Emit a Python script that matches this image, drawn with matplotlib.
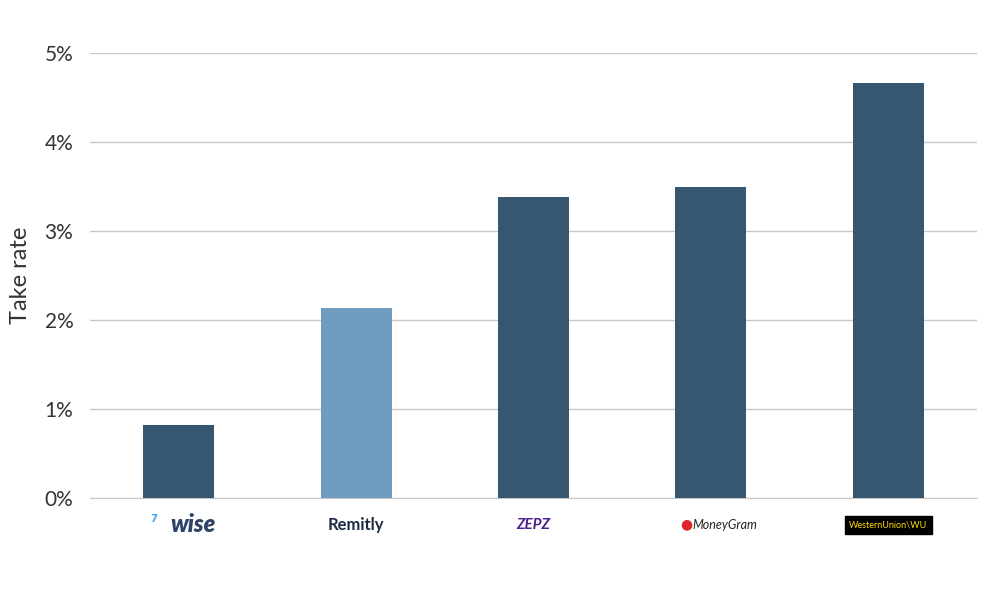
import matplotlib.pyplot as plt
from matplotlib.ticker import FuncFormatter

plt.rcParams['font.family'] = ['Lato', 'DejaVu Sans']

providers = ["wise", "Remitly", "ZEPZ", "MoneyGram", "WesternUnion\\WU"]
take_rate = [0.82, 2.13, 3.38, 3.49, 4.66]
bar_colors = ["#37566f", "#6f9cc0", "#37566f", "#37566f", "#37566f"]

fig = plt.figure(figsize=(10, 6), dpi=100)
ax = fig.add_axes([0.09, 0.17, 0.887, 0.742])
x = list(range(len(providers)))
ax.bar(x, take_rate, width=0.4, color=bar_colors, zorder=3)
ax.set_xlim(-0.5, 4.5)
ax.set_ylim(0, 5)
ax.set_yticks(range(0, 6))
ax.yaxis.set_major_formatter(FuncFormatter(lambda v, _: f"{v:.0f}%"))
ax.grid(axis="y", color="#c8c8c8", linewidth=1, zorder=0)
for s in ["top", "right", "left"]:
    ax.spines[s].set_visible(False)
ax.spines["bottom"].set_color("#c8c8c8")
ax.tick_params(axis="y", length=0, labelsize=15, colors="#333333", pad=12)
ax.tick_params(axis="x", length=0)
ax.set_xticks(x)
ax.set_xticklabels([])
ax.set_ylabel("Take rate", fontsize=17, color="#333333", labelpad=10)

# logo-like text labels under each bar
y = -0.3
styles = [
    dict(fontsize=17, fontweight="heavy", fontstyle="italic", color="#2e4369"),
    dict(fontsize=12, fontweight="bold", color="#1d2a44"),
    dict(fontsize=11, fontweight="bold", fontstyle="italic", color="#4a1f8c"),
    dict(fontsize=9, fontstyle="italic", color="#222222"),
    dict(fontsize=6.5, color="#ffdd00",
         bbox=dict(boxstyle="square,pad=0.5", facecolor="black", edgecolor="black")),
]
for xi, name, st in zip(x, providers, styles):
    ax.text(xi + (0.08 if xi in (0, 3) else 0), y, name, ha="center", va="center",
            clip_on=False, **st)
# small marks that precede some logos
ax.text(-0.14, y, "⁷", ha="center", va="center", fontsize=15, color="#3fa9f5",
        fontweight="bold", clip_on=False)
ax.text(2.86, y, "●", ha="center", va="center", fontsize=10, color="#e0242b",
        family=["DejaVu Sans"], clip_on=False)

fig.savefig("out.png", dpi=100)
